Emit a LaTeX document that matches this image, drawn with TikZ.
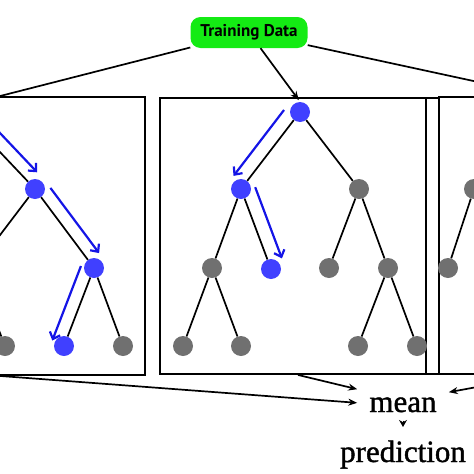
\documentclass[tikz,border=0pt]{standalone}
\usepackage{fontspec}
\setmainfont{Liberation Serif}
\newfontfamily\tdfont{PT Sans}
\newfontfamily\heavyserif[FakeBold=1.2]{Liberation Serif}
\usetikzlibrary{arrows.meta,calc}
\definecolor{nodeblue}{RGB}{64,64,255}
\definecolor{arrowblue}{RGB}{20,20,230}
\definecolor{nodegray}{RGB}{112,112,112}
\definecolor{tdgreen}{RGB}{20,235,20}
\begin{document}
\begin{tikzpicture}[x=1pt,y=-1pt,
  bnode/.style={circle,fill=nodeblue,minimum size=20,inner sep=0},
  gnode/.style={circle,fill=nodegray,minimum size=20,inner sep=0},
  edge/.style={line width=1.7},
  boxst/.style={draw,line width=1.9,rectangle,inner sep=0},
  barrow/.style={draw=arrowblue,line width=2.2,-{Straight Barb[length=6,width=11,line width=2.2]}},
  karrow/.style={line width=1.7,-{Stealth[length=9,width=7]}},
  bigtext/.style={font=\heavyserif\fontsize{31}{31}\selectfont}
]
\useasboundingbox (0,0) rectangle (474,474);
\clip (0,0) rectangle (474,474);

% boxes
\node[boxst,minimum width=290,minimum height=278] (lbox) at (0,236) {};
\node[boxst,minimum width=266,minimum height=276] (mbox) at (293,236) {};
\node[boxst,minimum width=13,minimum height=276] (gapbox) at (432.5,236) {};
\node[boxst,minimum width=208,minimum height=277] (rbox) at (543,235.5) {};

% training data
\node[fill=tdgreen,rounded corners=10,minimum width=117,minimum height=31,inner sep=0,
      font=\tdfont\bfseries\fontsize{17}{17}\selectfont] (td) at (249,32.5) {Training Data};

% middle tree
\node[bnode] (m1) at (300,112) {};
\node[bnode] (m2) at (241,189) {};
\node[gnode] (m3) at (359,189) {};
\node[gnode] (m4) at (212,268) {};
\node[bnode] (m5) at (271,269) {};
\node[gnode] (m6) at (329,268) {};
\node[gnode] (m7) at (388,268) {};
\node[gnode] (m8) at (183,346) {};
\node[gnode] (m9) at (241,346) {};
\node[gnode] (m10) at (358,346) {};
\node[gnode] (m11) at (417,346) {};
\draw[edge] (m1) -- (m2) (m1) -- (m3) (m2) -- (m4) (m2) -- (m5)
  (m3) -- (m6) (m3) -- (m7) (m4) -- (m8) (m4) -- (m9) (m7) -- (m10) (m7) -- (m11);

% left tree
\node[bnode] (l0) at (-38,112) {};
\node[bnode] (l2) at (35,189) {};
\node[gnode] (l1) at (-25,268) {};
\node[bnode] (l3) at (94,268) {};
\node[gnode] (l4) at (5,346) {};
\node[bnode] (l5) at (64,346) {};
\node[gnode] (l6) at (123,346) {};
\draw[edge] (l0) -- (l2) (l2) -- (l1) (l2) -- (l3) (l1) -- (l4) (l3) -- (l5) (l3) -- (l6);

% right tree
\node[gnode] (r0) at (474,189) {};
\node[gnode] (r1) at (448,268) {};
\draw[edge] (r0) -- (r1);

% blue path arrows
\draw[barrow] ($(m1)!0.084!(m2)+(-11,-8.5)$) -- ($(m1)!0.94!(m2)+(-11,-8.5)$);
\draw[barrow] ($(m2)!0.04!(m5)+(13,-5)$) -- ($(m2)!0.93!(m5)+(13,-5)$);
\draw[barrow] ($(l0)!0.1!(l2)+(9.5,-9)$) -- ($(l0)!0.9!(l2)+(9.5,-9)$);
\draw[barrow] ($(l2)!0.085!(l3)+(10.4,-7.8)$) -- ($(l2)!0.91!(l3)+(10.4,-7.8)$);
\draw[barrow] ($(l3)!0.035!(l5)+(-12,-4.7)$) -- ($(l3)!0.99!(l5)+(-12,-4.7)$);

% connectors from training data
\draw[edge] (td) -- (lbox.north);
\draw[edge] (td) -- (rbox.north);
\draw[karrow,shorten >=2] (td) -- (m1.north);

% mean and prediction
\node[bigtext,anchor=base,inner xsep=12,inner ysep=3] (mean) at (403,412) {mean};
\node[bigtext,anchor=base] (pred) at (403,462) {prediction};
\draw[karrow] (lbox.south) -- ($(mean.west)+(0,-2)$);
\draw[karrow] ($(mbox.south)+(5,0)$) -- ($(mean.north west)+(0,-5)$);
\draw[karrow] (rbox.south) -- ($(mean.north east)+(0,-2)$);
\draw[line width=0.8,-{Stealth[length=7,width=8]},shorten <=5,shorten >=10] (mean.south) -- (pred.north);
\end{tikzpicture}
\end{document}
